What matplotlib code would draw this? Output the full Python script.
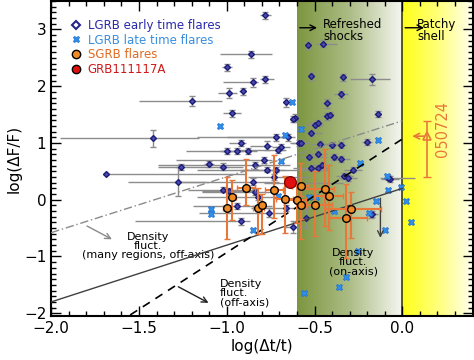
import numpy as np
import matplotlib
matplotlib.use("Agg")
import matplotlib.pyplot as plt
from matplotlib.colors import LinearSegmentedColormap
from matplotlib.lines import Line2D
from matplotlib.ticker import MultipleLocator

# LGRB early time flares: x, y, x err (lo, hi), y err
EX = [-0.78, -0.86, -1.00, -0.78, -0.85, -0.91, -0.99, -1.20, -0.97, -0.66,
      -0.61, -1.42, -0.92, -0.77, -0.72, -0.65, -0.59, -0.54, -0.45, -0.52,
      -0.34, -0.17, -0.35, -0.43, -0.43, -0.41, -0.14, -0.50, -0.52, -0.48,
      -0.62, -0.88, -0.79, -0.69, -0.71, -0.58, -0.47, -0.40, -0.35, -0.20,
      -0.48, -0.53, -0.39, -0.35, -0.84, -0.52, -0.48, -0.46, -0.77, -0.72,
      -0.33, -0.28, -0.07, -0.18, -0.55, -1.26, -1.28, -1.10, -1.02, -1.00,
      -0.94, -1.69, -1.02, -0.99, -0.94, -0.84, -0.76, -0.66, -0.31, -0.08,
      -0.17, -0.92, -0.85, -0.73, -0.64, -0.62, -0.82]
EY = [3.25, 2.56, 2.33, 2.12, 2.07, 1.91, 1.88, 1.74, 1.52, 1.72,
      1.44, 1.08, 1.00, 0.95, 1.10, 1.10, 1.00, 2.72, 2.75, 2.18,
      2.16, 2.12, 1.86, 1.70, 1.47, 1.50, 1.51, 1.32, 1.18, 1.35,
      1.42, 0.86, 0.70, 0.93, 0.88, 1.00, 0.98, 0.96, 0.97, 1.02,
      0.81, 0.75, 0.75, 0.72, 0.61, 0.56, 0.56, 0.61, 0.53, 0.53,
      0.42, 0.53, 0.37, -0.26, -0.32, 0.58, 0.32, 0.63, 0.58, 0.86,
      0.86, 0.46, 0.18, 0.15, -0.11, 0.14, -0.23, -0.14, 0.38, 0.39,
      -0.25, -0.38, 0.32, 0.40, 0.30, -0.48, 0.05]
EXLO = [0.03, 0.18, 0.03, 0.03, 0.17, 0.02, 0.06, 0.30, 0.05, 0.02,
        0.02, 0.53, 0.07, 0.10, 0.45, 0.35, 0.05, 0.02, 0.04, 0.02,
        0.02, 0.13, 0.04, 0.03, 0.03, 0.02, 0.02, 0.05, 0.03, 0.06,
        0.02, 0.35, 0.50, 0.05, 0.25, 0.05, 0.05, 0.03, 0.03, 0.03,
        0.05, 0.05, 0.03, 0.05, 0.55, 0.10, 0.05, 0.05, 0.40, 0.20,
        0.05, 0.05, 0.05, 0.03, 0.03, 0.13, 0.28, 0.03, 0.03, 0.03,
        0.10, 0.00, 0.20, 0.15, 0.25, 0.30, 0.40, 0.20, 0.05, 0.05,
        0.03, 0.60, 0.45, 0.15, 0.15, 0.05, 0.35]
EXHI = [0.03, 0.12, 0.03, 0.05, 0.03, 0.02, 0.05, 0.17, 0.05, 0.02,
        0.02, 0.26, 0.03, 0.03, 0.05, 0.04, 0.05, 0.02, 0.08, 0.02,
        0.02, 0.10, 0.04, 0.03, 0.03, 0.02, 0.02, 0.05, 0.06, 0.03,
        0.02, 0.05, 0.05, 0.05, 0.05, 0.05, 0.10, 0.03, 0.03, 0.03,
        0.05, 0.10, 0.03, 0.05, 0.20, 0.10, 0.05, 0.05, 0.10, 0.30,
        0.05, 0.05, 0.05, 0.03, 0.03, 0.35, 0.16, 0.03, 0.03, 0.03,
        0.03, 0.80, 0.20, 0.15, 0.20, 0.10, 0.10, 0.15, 0.05, 0.15,
        0.03, 0.05, 0.15, 0.20, 0.30, 0.05, 0.10]
EYERR = [0.06, 0.06, 0.06, 0.06, 0.08, 0.06, 0.08, 0.08, 0.06, 0.08,
         0.07, 0.15, 0.06, 0.08, 0.06, 0.06, 0.06, 0.06, 0.06, 0.07,
         0.06, 0.10, 0.06, 0.08, 0.06, 0.05, 0.06, 0.05, 0.05, 0.05,
         0.05, 0.06, 0.06, 0.05, 0.05, 0.05, 0.05, 0.05, 0.05, 0.05,
         0.05, 0.05, 0.05, 0.05, 0.06, 0.05, 0.05, 0.05, 0.05, 0.05,
         0.05, 0.05, 0.05, 0.06, 0.18, 0.05, 0.25, 0.06, 0.06, 0.06,
         0.05, 0.00, 0.05, 0.05, 0.05, 0.05, 0.08, 0.05, 0.05, 0.05,
         0.05, 0.06, 0.06, 0.05, 0.05, 0.10, 0.05]

# LGRB late time flares
LX = [-0.63, -1.04, -0.67, -0.58, -0.69, -0.24, -0.14, -0.09, -0.08, -0.01,
      0.02, 0.05, -0.15, -0.19, -0.10, -0.85, -0.39, -0.53, -0.49, -1.09,
      -1.09, -0.25, -0.32, -0.36, -0.56, -0.71]
LY = [1.72, 1.30, 1.14, 1.25, 0.68, 0.65, 1.05, 0.42, 0.18, 0.23,
      -0.02, -0.39, -0.02, -0.23, -0.54, -0.53, -0.19, 0.05, 0.05, -0.16,
      -0.25, -0.90, -1.37, -1.54, -1.65, 0.07]

# SGRB flares: x, y, x err (lo, hi), y err (lo, hi)
SX = [-0.97, -1.00, -0.89, -0.82, -0.80, -0.73, -0.67, -0.58, -0.60, -0.58,
      -0.50, -0.44, -0.42, -0.29, -0.32]
SY = [0.05, -0.15, 0.21, -0.15, -0.10, 0.18, 0.02, 0.25, -0.01, -0.09,
      -0.09, 0.19, 0.07, -0.17, -0.33]
SXLO = [0.02, 0.02, 0.05, 0.03, 0.02, 0.05, 0.05, 0.05, 0.05, 0.02,
        0.05, 0.15, 0.08, 0.15, 0.10]
SXHI = [0.02, 0.02, 0.05, 0.03, 0.02, 0.05, 0.05, 0.05, 0.05, 0.02,
        0.10, 0.05, 0.08, 0.17, 0.12]
SYLO = [0.40, 0.55, 0.30, 0.45, 0.50, 0.50, 0.60, 0.95, 0.40, 0.25,
        0.55, 0.65, 0.60, 0.50, 0.70]
SYHI = [0.30, 0.55, 0.50, 0.35, 0.20, 0.60, 0.40, 0.40, 0.30, 0.15,
        0.60, 0.70, 0.55, 0.30, 0.60]

# GRB111117A
RX, RY = [-0.64], [0.32]

# GRB 050724
PX, PY, PYLO, PYHI = [0.14], [1.12], [0.72], [0.27]

# model lines
SOLID_X, SOLID_Y = [-2.0, 0.0], [-1.8, 0.2]
DASH_X, DASH_Y = [-1.55, 0.0], [-2.03, 1.07]
DASHDOT_X, DASHDOT_Y = [-2.0, 0.0], [-0.58, 1.39]

NAVY = "#26268c"
LBLUE = "#2f8ee8"
ORANGE = "#f08a24"
OERR = "#e8783a"
RED = "#e01010"
FS = 8

fig = plt.figure(figsize=(4.74, 3.6), dpi=100)
ax = fig.add_axes([0.108, 0.122, 0.889, 0.875])

# shaded regions
green = LinearSegmentedColormap.from_list("g", ["#7c9640", "#adbd86", "#f6f7f2"])
yellow = LinearSegmentedColormap.from_list("y", ["#ffff18", "#ffff78", "#fffff0"])
grad = np.linspace(0, 1, 256)[None, :]
ax.imshow(grad, extent=[-0.6, 0.0, -2.05, 3.5], aspect="auto", cmap=green, zorder=0)
ax.imshow(grad, extent=[0.0, 0.4, -2.05, 3.5], aspect="auto", cmap=yellow, zorder=0)
ax.axvline(0.0, color="#3a3a10", lw=1.2, zorder=1)

# model lines
ax.plot(SOLID_X, SOLID_Y, color="#404040", lw=1.0, zorder=4)
ax.plot(DASH_X, DASH_Y, color="black", lw=1.2, ls=(0, (5, 4)), zorder=4)
ax.plot(DASHDOT_X, DASHDOT_Y, color="#8a8a8a", lw=1.0, ls=(0, (6, 2, 1, 2)), zorder=4)

# LGRB early
ax.errorbar(EX, EY, xerr=[EXLO, EXHI], fmt="none", ecolor="#8c8c8c", lw=1.0, zorder=2)
ax.errorbar(EX, EY, yerr=EYERR, fmt="none", ecolor="#8c8c8c", lw=1.0, capsize=2, zorder=2)
ax.plot(EX, EY, "D", ms=3, mfc="#4a4aa8", mec="#1c1c78", mew=1.0, ls="none", zorder=3)

# LGRB late
ax.plot(LX, LY, "X", ms=4.5, mfc=LBLUE, mec="#1f6fd0", mew=0.5, ls="none", zorder=3)

# SGRB
ax.errorbar(SX, SY, xerr=[SXLO, SXHI], yerr=[SYLO, SYHI], fmt="none",
            ecolor=OERR, lw=1.5, capsize=2, zorder=5)
ax.plot(SX, SY, "o", ms=5.5, mfc=ORANGE, mec="black", mew=1.0, ls="none", zorder=6)
ax.plot(RX, RY, "o", ms=8.5, mfc=RED, mec="#700000", mew=0.8, ls="none", zorder=6)

# 050724
ax.errorbar(PX, PY, yerr=[PYLO, PYHI], fmt="none", ecolor=OERR, lw=1.2, capsize=3, zorder=5)
ax.plot(PX, PY, "^", ms=6, mfc="none", mec=OERR, mew=1.2, zorder=6)
ax.annotate("", xy=(0.04, PY[0]), xytext=(PX[0], PY[0]),
            arrowprops=dict(arrowstyle="->", color=OERR, lw=1.2), zorder=6)
ax.text(0.23, 1.25, "050724", rotation=90, color=OERR, fontsize=10.5,
        ha="center", va="center")

# region labels
ax.annotate("", xy=(-0.47, 3.03), xytext=(-0.6, 3.03),
            arrowprops=dict(arrowstyle="->", color="black", lw=1.0))
ax.text(-0.45, 2.98, "Refreshed\nshocks", fontsize=8.5, ha="left", va="center",
        linespacing=0.95)
ax.annotate("", xy=(0.14, 3.03), xytext=(0.0, 3.03),
            arrowprops=dict(arrowstyle="->", color="black", lw=1.0))
ax.text(0.085, 2.98, "Patchy\nshell", fontsize=8.5, ha="left", va="center",
        linespacing=0.95)

# density fluctuation labels
ax.annotate("", xy=(-1.64, -0.72), xytext=(-1.81, -0.44),
            arrowprops=dict(arrowstyle="->", color="#8a8a8a", lw=1.0))
ax.text(-1.45, -0.82, "Density\nfluct.\n(many regions, off-axis)", fontsize=FS,
        ha="center", va="center", multialignment="center", linespacing=0.9)

ax.annotate("", xy=(-1.09, -1.84), xytext=(-1.29, -1.51),
            arrowprops=dict(arrowstyle="->", color="#202020", lw=1.0))
ax.text(-1.04, -1.65, "Density\nfluct.\n(off-axis)", fontsize=FS,
        ha="left", va="center", linespacing=0.9)

ax.annotate("", xy=(-0.125, -0.72), xytext=(-0.125, 0.075),
            arrowprops=dict(arrowstyle="->", color="#404040", lw=1.0), zorder=4)
ax.text(-0.28, -1.10, "Density\nfluct.\n(on-axis)", fontsize=FS,
        ha="center", va="center", multialignment="center", linespacing=0.9)

# legend
handles = [
    Line2D([], [], marker="D", ls="none", ms=4, mfc="white", mec=NAVY, mew=1.5),
    Line2D([], [], marker="X", ls="none", ms=4.5, mfc=LBLUE, mec="#1f6fd0", mew=0.5),
    Line2D([], [], marker="o", ls="none", ms=6, mfc=ORANGE, mec="black", mew=1.0),
    Line2D([], [], marker="o", ls="none", ms=6, mfc=RED, mec="black", mew=1.0),
]
labels = ["LGRB early time flares", "LGRB late time flares", "SGRB flares", "GRB111117A"]
ax.legend(handles, labels, loc="upper left", bbox_to_anchor=(0.025, 0.97),
          frameon=False, fontsize=8.5, handlelength=1.0, handletextpad=0.5,
          labelspacing=0.15, borderaxespad=0.3,
          labelcolor=["#2a2aa8", "#3a8ee0", "#e06a20", "#d01818"])

ax.set_xlim(-2.0, 0.4)
ax.set_ylim(-2.05, 3.5)
ax.xaxis.set_minor_locator(MultipleLocator(0.1))
ax.yaxis.set_minor_locator(MultipleLocator(0.1))
ax.tick_params(which="both", direction="in", top=True, right=True, width=1.0)
ax.tick_params(which="major", length=7, labelsize=11)
ax.tick_params(which="minor", length=3.5)
ax.set_xticks([-2.0, -1.5, -1.0, -0.5, 0.0])
ax.set_xticklabels(["\u22122.0", "\u22121.5", "\u22121.0", "\u22120.5", "0.0"])
ax.set_yticks([-2, -1, 0, 1, 2, 3])
ax.set_yticklabels(["\u22122", "\u22121", "0", "1", "2", "3"])
for s in ax.spines.values():
    s.set_linewidth(1.5)
ax.set_xlabel("log(\u0394t/t)", fontsize=11, labelpad=2)
ax.set_ylabel("log(\u0394F/F)", fontsize=11, labelpad=2)

fig.savefig("out.png", dpi=100)
